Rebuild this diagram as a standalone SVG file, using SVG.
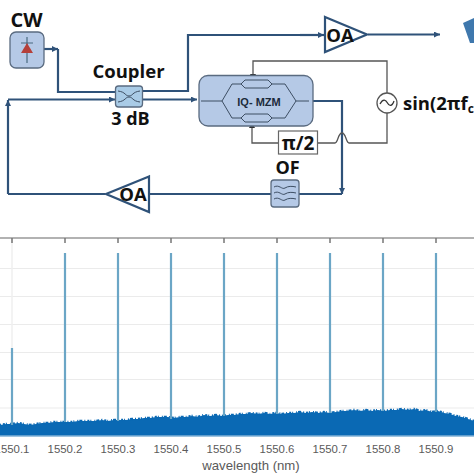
<svg xmlns="http://www.w3.org/2000/svg" width="474" height="474" viewBox="0 0 474 474">
<style>
.lbl{font-family:"Open Sans","Noto Sans",sans-serif;font-weight:700;fill:#111}
.c{fill:none;stroke:#2f5279;stroke-width:2.2}
.g{fill:none;stroke:#555;stroke-width:1.3}
.box{fill:#b5c9e6;stroke:#5a6b80;stroke-width:1.3}
.tri{fill:#fff;stroke:#2f5279;stroke-width:2.2;stroke-linejoin:miter}
.in{fill:none;stroke:#3d4e63;stroke-width:1}
.grid{stroke:#ebebeb;stroke-width:1.2}
.stem{stroke:#6ba6c6;stroke-width:2.2}
.tick{font-family:"Liberation Sans",Arial,sans-serif;font-size:11.4px;fill:#5a5a5a;text-anchor:middle}
</style>
<defs>
<marker id="a" markerWidth="8" markerHeight="7" refX="6" refY="3" orient="auto" markerUnits="userSpaceOnUse"><path d="M0 0L6 3L0 6z" fill="#2f5279"/></marker>
<marker id="b" markerWidth="8" markerHeight="7" refX="6" refY="3" orient="auto" markerUnits="userSpaceOnUse"><path d="M0 0L6 3L0 6z" fill="#333"/></marker>
</defs>
<rect width="474" height="474" fill="#fff"/>
<g id="connectors">
<path class="c" marker-end="url(#a)" d="M44 49H58"/>
<path class="c" d="M58 49V92H116"/>
<path class="c" d="M143 91H188V35H300"/>
<path class="c" stroke-width="1.8" marker-end="url(#a)" d="M300 35H324"/>
<path class="c" marker-end="url(#a)" d="M368 34.500H440"/>
<path class="c" marker-end="url(#a)" d="M143 99.500H197"/>
<path class="c" marker-end="url(#a)" d="M8 99.500H115"/>
<path class="c" marker-end="url(#a)" d="M8 194V100"/>
<path class="c" d="M105 194H8"/>
<path class="c" d="M271 194H149"/>
<path class="c" marker-end="url(#a)" d="M313 101H342V194"/>
<path class="c" d="M342 194H299"/>
<path class="g" marker-end="url(#b)" d="M387 93V61H253V80"/>
<path class="g" marker-end="url(#b)" d="M278 143H252V122"/>
<path class="g" d="M317 143H335C338 143 338 133 342 133C346 133 346 143 349 143H387V113"/>
</g>
<g id="cw">
<rect class="box" x="10" y="32" width="34" height="36" rx="6"/>
<path d="M27 37V63M21 43H33" stroke="#4a6b80" stroke-width="1.2" fill="none"/>
<path d="M27 43L33 53H21z" fill="#b5403a"/>
<text class="lbl" x="26.500" y="27" font-size="20" text-anchor="middle">CW</text>
</g>
<g id="coupler">
<rect x="115.500" y="86" width="27" height="21" rx="3" fill="#a9cbe6" stroke="#5a6b80" stroke-width="1.300"/>
<path class="in" d="M118 91C126 92 125 96 129 96C133 96 132 92 140 91M118 102C126 101 125 97 129 97C133 97 132 101 140 102"/>
<text class="lbl" x="128.500" y="78" font-size="18.500" text-anchor="middle">Coupler</text>
<text class="lbl" x="130.500" y="125" font-size="18" text-anchor="middle">3 dB</text>
</g>
<g id="oa1">
<path class="tri" d="M325 17L367 34.500L325 52z"/>
<text class="lbl" x="340" y="41.500" font-size="18.500" text-anchor="middle">OA</text>
</g>
<g id="mzm">
<rect class="box" x="199" y="75.500" width="114" height="50.500" rx="9"/>
<path class="in" d="M201 101H222L232 84H241L245 80H268L272 84H285L296 101H309M222 101L232 118H241L245 122H268L272 118H285L296 101M241 84L245 88H268L272 84M241 118L245 114H268L272 118"/>
<text x="259" y="106" font-family="'Liberation Sans',Arial,sans-serif" font-size="11" font-weight="700" fill="#1c2a3a" text-anchor="middle">IQ- MZM</text>
</g>
<g id="sine">
<circle cx="387" cy="103" r="10" fill="#fff" stroke="#555" stroke-width="1.300"/>
<path d="M380 104C383 98 386 100 387.500 103C389 106 392 107 394 101" fill="none" stroke="#333" stroke-width="1.300"/>
<text class="lbl" x="403" y="110" font-size="18.500">sin(2πf<tspan font-size="12" dy="3">c</tspan></text>
</g>
<g id="phase">
<rect x="278.500" y="131" width="39" height="23" fill="#fff" stroke="#666" stroke-width="1.200"/>
<text class="lbl" x="298" y="149.500" font-size="19" text-anchor="middle">π/2</text>
</g>
<g id="of">
<rect class="box" x="271" y="180" width="28" height="27" rx="3"/>
<path class="in" d="M274 187C279 184 282 190 285 188S292 186 296 187M274 193C279 190 282 196 285 194S292 192 296 193M274 199C279 196 282 202 285 200S292 198 296 199"/>
<text class="lbl" x="287.500" y="174" font-size="18" text-anchor="middle">OF</text>
</g>
<g id="oa2">
<path class="tri" d="M149 176.500L106 194L149 212z"/>
<text class="lbl" x="133" y="201" font-size="18.500" text-anchor="middle">OA</text>
</g>
<path id="beam" d="M463 23L474 18V43H470z" fill="#3f78ad"/>
<g id="chart">
<path class="grid" d="M0 268.500H474M0 296.500H474M0 324.500H474M0 352.500H474M0 379.500H474M0 408H474"/>
<path d="M12 238V348" stroke="#efefef" stroke-width="1.500"/>
<path d="M0 238H474" stroke="#999" stroke-width="1.500"/>
<path d="M0 425L6 424L12 424L18 423L24 424L30 425L36 424L42 423L48 423L54 422L60 422L65 422L72 422L78 421L84 421L90 421L96 421L102 420L108 421L114 420L120 420L126 420L132 419L138 419L144 418L150 418L156 417L162 417L168 417L174 418L180 417L186 417L192 416L198 417L204 415L210 416L216 415L222 416L228 415L234 415L240 414L246 414L252 413L258 414L264 413L270 414L276 413L282 414L288 413L294 413L300 412L306 413L312 412L318 413L324 412L330 413L336 412L342 411L348 411L354 410L360 411L366 410L372 411L378 410L384 411L390 410L396 410L402 409L408 410L414 409L420 411L426 410L432 412L438 411L444 413L450 414L456 416L462 417L468 419L474 421V436H0z" fill="#0a69b4"/>
<path d="M0 425L6 424L12 424L18 423L24 424L30 425L36 424L42 423L48 423L54 422L60 422L65 422L72 422L78 421L84 421L90 421L96 421L102 420L108 421L114 420L120 420L126 420L132 419L138 419L144 418L150 418L156 417L162 417L168 417L174 418L180 417L186 417L192 416L198 417L204 415L210 416L216 415L222 416L228 415L234 415L240 414L246 414L252 413L258 414L264 413L270 414L276 413L282 414L288 413L294 413L300 412L306 413L312 412L318 413L324 412L330 413L336 412L342 411L348 411L354 410L360 411L366 410L372 411L378 410L384 411L390 410L396 410L402 409L408 410L414 409L420 411L426 410L432 412L438 411L444 413L450 414L456 416L462 417L468 419L474 421" fill="none" stroke="#0a69b4" stroke-width="2.500" stroke-dasharray="1 2 2 1 1 3 1 1 3 2"/>
<path d="M0 436H474" stroke="#7fb0d6" stroke-width="1.500"/>
<g class="stem">
<path d="M12 348V425M65 253V422M118 253V421M171 253V419M224 253V416M277 253V414M330 253V413M383 253V411M436 253V412"/>
</g>
<path d="M12 238V243M65 238V243M118 238V243M171 238V243M224 238V243M277 238V243M330 238V243M383 238V243M436 238V243" stroke="#777" stroke-width="1.500"/>
<text class="tick" x="12" y="453">1550.1</text>
<text class="tick" x="65" y="453">1550.2</text>
<text class="tick" x="118" y="453">1550.3</text>
<text class="tick" x="171" y="453">1550.4</text>
<text class="tick" x="224" y="453">1550.5</text>
<text class="tick" x="277" y="453">1550.6</text>
<text class="tick" x="330" y="453">1550.7</text>
<text class="tick" x="383" y="453">1550.8</text>
<text class="tick" x="436" y="453">1550.9</text>
<text class="tick" x="251" y="470" style="font-size:13.200px">wavelength (nm)</text>
</g>
</svg>
